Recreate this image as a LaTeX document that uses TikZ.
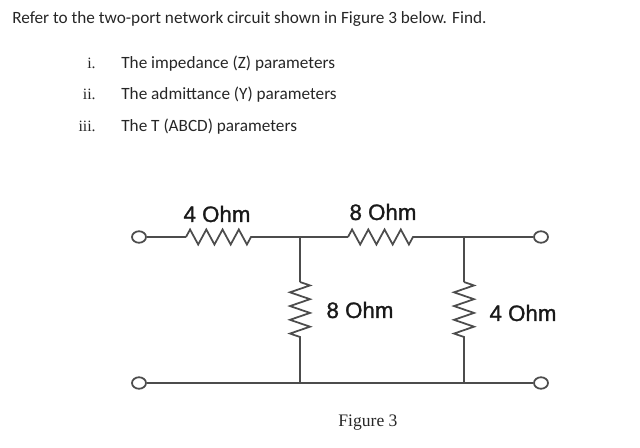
\documentclass[tikz,border=0pt]{standalone}
\usepackage{fontspec}
\setmainfont{Carlito}
\newfontfamily\labelfont[FakeBold=1.2]{Liberation Sans}
\newfontfamily\seriffont{Liberation Serif}
\usetikzlibrary{decorations.pathmorphing}
\usetikzlibrary{shapes.geometric}
\definecolor{wiregray}{gray}{0.3}
\tikzstyle{wire} = [draw=wiregray, line width=1pt]
\tikzstyle{hres} = [wire, decorate, decoration={zigzag, segment length=0.325cm, amplitude=0.15cm}]
\tikzstyle{vres} = [wire, decorate, decoration={zigzag, segment length=0.275cm, amplitude=0.2cm}]
\tikzstyle{port} = [ellipse, draw=wiregray, line width=1pt, fill=white, minimum width=0.28cm, minimum height=0.23cm, inner sep=0pt]
\tikzstyle{question} = [anchor=base west, inner sep=0pt, text=black!85, font=\fontsize{9.8}{11}\selectfont]
\tikzstyle{numeral} = [anchor=base east, inner sep=0pt, text=black!85, font=\seriffont\fontsize{9}{10}\selectfont]
\tikzstyle{value} = [inner sep=0pt, text=black!90, font=\labelfont\fontsize{12.7}{14}\selectfont]
\begin{document}
\begin{tikzpicture}[x=0.02cm, y=-0.02cm]
    \useasboundingbox (0,0) rectangle (640,447);
    % text above the circuit
    \node[question] (title) at (12,23) {Refer to the two-port network circuit shown in Figure 3 below. Find.};
    \node[numeral] (n1) at (96,68) {i.};
    \node[numeral] (n2) at (96,99) {ii.};
    \node[numeral] (n3) at (96,131) {iii.};
    \node[question] (q1) at (121,68) {The impedance (Z) parameters};
    \node[question] (q2) at (121,99) {The admittance (Y) parameters};
    \node[question] (q3) at (121,131) {The T (ABCD) parameters};
    % ports and junctions
    \node[port] (p1) at (139,237) {};
    \node[port] (p2) at (139,383) {};
    \node[port] (p3) at (541,237) {};
    \node[port] (p4) at (541,383) {};
    \coordinate (j1) at (300,237);
    \coordinate (j2) at (464,237);
    \coordinate (j3) at (300,383);
    \coordinate (j4) at (464,383);
    % resistor ends
    \coordinate (r1a) at (186,237);
    \coordinate (r1b) at (252,237);
    \coordinate (r2a) at (348,237);
    \coordinate (r2b) at (414,237);
    \coordinate (r3a) at (300,282);
    \coordinate (r3b) at (300,338);
    \coordinate (r4a) at (464,282);
    \coordinate (r4b) at (464,338);
    \draw[wire] (p1) -- (r1a);
    \draw[hres] (r1a) -- (r1b);
    \draw[wire] (r1b) -- (j1) -- (r2a);
    \draw[hres] (r2a) -- (r2b);
    \draw[wire] (r2b) -- (j2) -- (p3);
    \draw[wire] (p2) -- (j3) -- (j4) -- (p4);
    \draw[wire] (j1) -- (r3a);
    \draw[vres] (r3a) -- (r3b);
    \draw[wire] (r3b) -- (j3);
    \draw[wire] (j2) -- (r4a);
    \draw[vres] (r4a) -- (r4b);
    \draw[wire] (r4b) -- (j4);
    % values
    \node[value] (v1) at (217,214) {4 Ohm};
    \node[value] (v2) at (383,212) {8 Ohm};
    \node[value] (v3) at (360,310) {8 Ohm};
    \node[value] (v4) at (523,313) {4 Ohm};
    \node[inner sep=0pt, text=black!85, font=\seriffont\fontsize{10}{11}\selectfont] (fig) at (368,423) {Figure 3};
\end{tikzpicture}
\end{document}
